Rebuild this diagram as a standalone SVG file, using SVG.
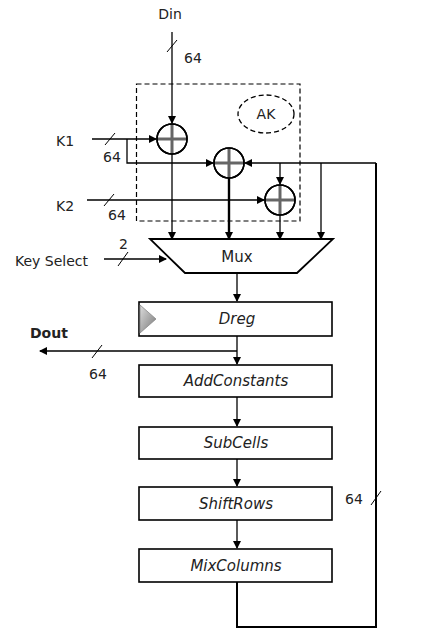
<svg xmlns="http://www.w3.org/2000/svg" width="421" height="632" viewBox="0 0 421 632">
<style>
.t{font-family:"DejaVu Sans",sans-serif;font-size:14px;fill:#222}
.i{font-family:"DejaVu Sans",sans-serif;font-size:15px;font-style:italic;fill:#222}
.ln{stroke:#000;stroke-width:1.3;fill:none}
.sl{stroke:#000;stroke-width:1;fill:none}
.box{fill:#fff;stroke:#000;stroke-width:1.6}
.xc{fill:#fff;stroke:#000;stroke-width:1.6}
.xp{stroke:#666;stroke-width:3}
</style>
<defs>
<marker id="a" markerWidth="8" markerHeight="8" refX="7" refY="4" orient="auto" markerUnits="userSpaceOnUse">
<path d="M0,0 L8,4 L0,8 Z" fill="#000"/>
</marker>
<linearGradient id="g" x1="0" y1="0" x2="1" y2="1">
<stop offset="0" stop-color="#ddd"/><stop offset="1" stop-color="#777"/>
</linearGradient>
</defs>
<rect width="421" height="632" fill="#fff"/>

<g id="ak-group">
<rect x="136.5" y="84" width="163.5" height="137" fill="none" stroke="#000" stroke-width="1.2" stroke-dasharray="5,3"/>
<ellipse cx="266" cy="114" rx="28" ry="19" fill="none" stroke="#000" stroke-width="1.3" stroke-dasharray="5,3"/>
<text class="t" x="266" y="119" text-anchor="middle">AK</text>
</g>

<g id="connectors">
<line class="ln" x1="172" y1="32" x2="172" y2="123" marker-end="url(#a)"/>
<line class="sl" x1="167" y1="52" x2="177" y2="40"/>
<line class="ln" x1="92" y1="139" x2="156" y2="139" marker-end="url(#a)"/>
<line class="sl" x1="105" y1="145" x2="115" y2="133"/>
<polyline class="ln" points="127,139 127,163 213,163" marker-end="url(#a)"/>
<line class="ln" x1="87" y1="200" x2="264" y2="200" marker-end="url(#a)"/>
<line class="sl" x1="104" y1="206" x2="114" y2="194"/>
<polyline class="ln" points="376,163 245,163" marker-end="url(#a)"/>
<line class="ln" x1="280" y1="163" x2="280" y2="184" marker-end="url(#a)"/>
<line class="ln" x1="321" y1="163" x2="321" y2="239" marker-end="url(#a)"/>
<line class="ln" x1="172" y1="154" x2="172" y2="239" marker-end="url(#a)"/>
<line class="ln" x1="229" y1="178" x2="229" y2="239" marker-end="url(#a)" style="stroke-width:2.4"/>
<line class="ln" x1="280" y1="215" x2="280" y2="239" marker-end="url(#a)"/>
<line class="ln" x1="104" y1="259" x2="166" y2="259" marker-end="url(#a)"/>
<line class="sl" x1="118" y1="266" x2="128" y2="252"/>
<line class="ln" x1="237" y1="273" x2="237" y2="301" marker-end="url(#a)"/>
<line class="ln" x1="237" y1="336" x2="237" y2="364" marker-end="url(#a)"/>
<line class="ln" x1="237" y1="351" x2="40" y2="351" marker-end="url(#a)"/>
<line class="sl" x1="92" y1="358" x2="102" y2="345"/>
<line class="ln" x1="237" y1="397" x2="237" y2="426" marker-end="url(#a)"/>
<line class="ln" x1="237" y1="459" x2="237" y2="486" marker-end="url(#a)"/>
<line class="ln" x1="237" y1="520" x2="237" y2="548" marker-end="url(#a)"/>
<polyline class="ln" points="237,582 237,627 376,627 376,163" style="stroke-width:2"/>
<line class="sl" x1="371" y1="505" x2="381" y2="491"/>
</g>

<g id="xor1">
<circle class="xc" cx="172" cy="139" r="15"/>
<line class="xp" x1="158" y1="139" x2="186" y2="139"/>
<line class="xp" x1="172" y1="125" x2="172" y2="153"/>
<circle cx="172" cy="139" r="15" fill="none" stroke="#000" stroke-width="1.6"/>
</g>
<g id="xor2">
<circle class="xc" cx="229" cy="163" r="15"/>
<line class="xp" x1="215" y1="163" x2="243" y2="163"/>
<line class="xp" x1="229" y1="149" x2="229" y2="177"/>
<circle cx="229" cy="163" r="15" fill="none" stroke="#000" stroke-width="1.6"/>
</g>
<g id="xor3">
<circle class="xc" cx="280" cy="200" r="15"/>
<line class="xp" x1="266" y1="200" x2="294" y2="200"/>
<line class="xp" x1="280" y1="186" x2="280" y2="214"/>
<circle cx="280" cy="200" r="15" fill="none" stroke="#000" stroke-width="1.6"/>
</g>

<g id="mux">
<polygon points="150,239 333,239 297,273 185,273" fill="#fff" stroke="#000" stroke-width="1.8"/>
<text class="t" x="237" y="262" text-anchor="middle" style="font-size:15px">Mux</text>
</g>
<g id="dreg">
<rect class="box" x="139" y="302" width="193" height="34"/>
<polygon points="140,305 156,319 140,333" fill="url(#g)" stroke="#888" stroke-width="0.8"/>
<text class="i" x="237" y="324" text-anchor="middle">Dreg</text>
</g>
<g id="addconstants">
<rect class="box" x="139" y="365" width="193" height="32"/>
<text class="i" x="236" y="386" text-anchor="middle">AddConstants</text>
</g>
<g id="subcells">
<rect class="box" x="139" y="427" width="193" height="32"/>
<text class="i" x="236" y="448" text-anchor="middle">SubCells</text>
</g>
<g id="shiftrows">
<rect class="box" x="139" y="487" width="193" height="33"/>
<text class="i" x="236" y="509" text-anchor="middle">ShiftRows</text>
</g>
<g id="mixcolumns">
<rect class="box" x="139" y="549" width="193" height="33"/>
<text class="i" x="236" y="571" text-anchor="middle">MixColumns</text>
</g>

<g id="labels">
<text class="t" x="170" y="19" text-anchor="middle">Din</text>
<text class="t" x="184" y="63">64</text>
<text class="t" x="56" y="146">K1</text>
<text class="t" x="103" y="162">64</text>
<text class="t" x="56" y="211">K2</text>
<text class="t" x="108" y="220">64</text>
<text class="t" x="15" y="266">Key Select</text>
<text class="t" x="119" y="249">2</text>
<text class="t" x="30" y="338" style="font-weight:bold">Dout</text>
<text class="t" x="89" y="379">64</text>
<text class="t" x="345" y="504">64</text>
</g>
</svg>
